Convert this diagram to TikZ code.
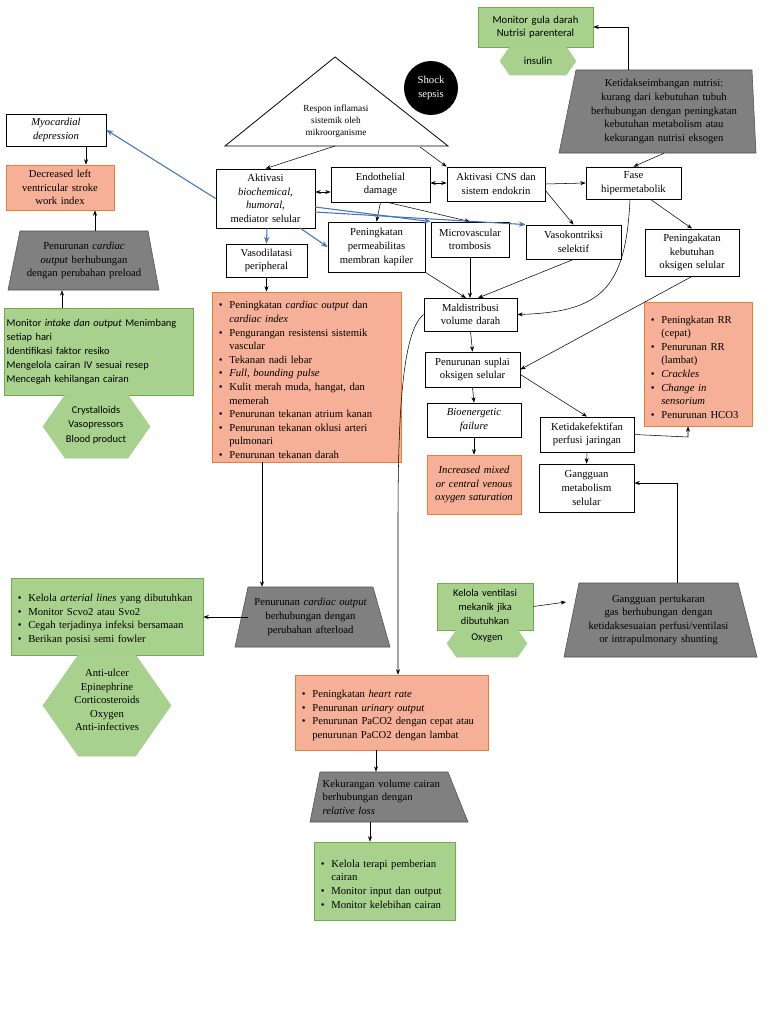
\documentclass[tikz,border=0pt]{standalone}
\usepackage{fontspec}
\setmainfont{Liberation Serif}
\newfontfamily\gsans{Carlito}
\usepackage{enumitem}
\usetikzlibrary{arrows.meta}
\definecolor{org}{HTML}{F6B097}
\definecolor{orgb}{HTML}{ED7D31}
\definecolor{grn}{HTML}{A9D18E}
\definecolor{grnb}{HTML}{70AD47}
\definecolor{gry}{HTML}{808080}
\definecolor{blu}{HTML}{4472C4}
\newcommand\bx[7]{%
 \pgfmathsetmacro\cx{(#2+#4)/2}\pgfmathsetmacro\cy{(#3+#5)/2}%
 \pgfmathsetmacro\ww{(#4-#2)*0.75}\pgfmathsetmacro\hh{(#5-#3)*0.75}%
 \pgfmathsetmacro\tw{(#4-#2)*0.75-4}%
 \node[#6,minimum width=\ww pt,minimum height=\hh pt,text width=\tw pt] (#1) at (\cx,\cy) {#7};}
\newcommand\hexa[4]{% x1 y1 x2 y2
 \pgfmathsetmacro\dx{(#4-#2)*0.35}\pgfmathsetmacro\my{(#2+#4)/2}%
 \fill[grn,draw=grnb!60] (#1+\dx,#2)--(#3-\dx,#2)--(#3,\my)--(#3-\dx,#4)--(#1+\dx,#4)--(#1,\my)--cycle;}
\newcommand\trap[6]{% ytop xtl xtr ybot xbl xbr
 \fill[gry,draw=gry!60!black] (#2,#1)--(#3,#1)--(#6,#4)--(#5,#4)--cycle;}
\setlist[itemize]{nosep,leftmargin=11pt,label=\textbullet,topsep=0pt}
\begin{document}
\lefthyphenmin=64 \hyphenpenalty=10000
\begin{tikzpicture}[x=0.75pt,y=-0.75pt,font=\fontsize{8}{10.2}\selectfont,
 box/.style={draw,fill=white,line width=0.6pt,align=center,inner sep=1pt},
 ob/.style={draw=orgb,fill=org,line width=0.6pt,align=left,inner sep=2pt},
 gb/.style={draw=grnb,fill=grn,line width=0.6pt,align=left,inner sep=2pt},
 tx/.style={align=center,inner sep=1pt},
 ar/.style={-{Stealth[length=4pt,width=3pt]},line width=0.4pt},
 ba/.style={ar,draw=blu,line width=0.8pt,-{Stealth[length=5pt,width=4pt]}},
 da/.style={{Stealth[length=4pt,width=3pt]}-{Stealth[length=4pt,width=3pt]},line width=0.6pt}]
\useasboundingbox (0,0) rectangle (768,1024);
\fill[white] (0,0) rectangle (768,1024);
% top
\bx{mon}{478}{7}{593}{47}{gb,align=center,font=\gsans\fontsize{8}{10.2}\selectfont}{Monitor gula darah\\Nutrisi parenteral}
\hexa{500}{47}{576}{75}\node[font=\gsans\fontsize{8}{9}\selectfont] (ins) at (538,61) {insulin};
\draw[line width=0.6pt,fill=white] (335,57)--(448,146)--(225,146)--cycle;
\node[tx,font=\fontsize{7}{9}\selectfont] (resp) at (336,121) {Respon inflamasi\\sistemik oleh\\mikroorganisme};
\fill[black] (431,88) circle (27);
\node[tx,text=white] (shock) at (431,88) {Shock\\sepsis};
\trap{70}{576}{752}{153}{559}{756}
\bx{keti}{576}{70}{752}{153}{tx}{Ketidakseimbangan nutrisi: kurang dari kebutuhan tubuh berhubungan dengan peningkatan kebutuhan metabolism atau kekurangan nutrisi eksogen}
% row
\bx{fase}{586}{167}{681}{199}{box}{Fase\\hipermetabolik}
\bx{cns}{447}{167}{545}{201}{box}{Aktivasi CNS dan sistem endokrin}
\bx{endo}{331}{167}{430}{202}{box}{Endothelial\\damage}
\bx{bio}{216}{169}{315}{228}{box}{Aktivasi \textit{biochemical, humoral,} mediator selular}
\bx{perm}{328}{222}{425}{272}{box}{Peningkatan permeabilitas membran kapiler}
\bx{micro}{431}{222}{509}{257}{box}{Microvascular trombosis}
\bx{vaso}{526}{225}{621}{259}{box}{Vasokontriksi\\selektif}
\bx{keb}{645}{229}{739}{276}{box}{Peningakatan kebutuhan oksigen selular}
\bx{vdil}{226}{244}{307}{277}{box}{Vasodilatasi peripheral}
\bx{mald}{424}{298}{517}{331}{box}{Maldistribusi volume darah}
\bx{supl}{425}{352}{520}{387}{box}{Penurunan suplai oksigen selular}
\bx{bioe}{427}{403}{521}{437}{box,font=\itshape\fontsize{8}{10.2}\selectfont}{Bioenergetic\\failure}
\bx{incr}{427}{455}{521}{514}{ob,align=center,font=\itshape\fontsize{8}{10.2}\selectfont}{Increased mixed or central venous oxygen saturation}
\bx{perf}{540}{417}{634}{452}{box}{Ketidakefektifan perfusi jaringan}
\bx{gmet}{539}{464}{634}{512}{box}{Gangguan\\metabolism\\selular}
\bx{rr}{644}{302}{752}{426}{ob}{\begin{itemize}\item Peningkatan RR (cepat)\item Penurunan RR (lambat)\item \textit{Crackles}\item \textit{Change in sensorium}\item Penurunan HCO3\end{itemize}}
% left
\bx{myo}{6}{114}{106}{146}{box,font=\itshape\fontsize{8}{10.2}\selectfont}{Myocardial\\depression}
\bx{dec}{6}{165}{114}{210}{ob,align=center}{Decreased left ventricular stroke work index}
\trap{231}{20}{148}{290}{8}{159}
\bx{pre}{20}{231}{148}{290}{tx}{Penurunan \textit{cardiac output} berhubungan dengan perubahan preload}
\bx{gmon}{4}{308}{193}{395}{gb,font=\gsans\fontsize{7.8}{10.5}\selectfont,anchor=center}{Monitor \textit{intake dan output} Menimbang setiap hari\\Identifikasi faktor resiko\\Mengelola cairan IV sesuai resep\\Mencegah kehilangan cairan\\[12pt]}
\hexa{43}{395}{150}{458}\node[tx,font=\gsans\fontsize{7.8}{11}\selectfont] (cry) at (96,425) {Crystalloids\\Vasopressors\\Blood product};
\bx{ol}{212}{292}{401}{462}{ob}{\begin{itemize}\item Peningkatan \textit{cardiac output} dan \textit{cardiac index}\item Pengurangan resistensi sistemik vascular\item Tekanan nadi lebar\item \textit{Full, bounding pulse}\item Kulit merah muda, hangat, dan memerah\item Penurunan tekanan atrium kanan\item Penurunan tekanan oklusi arteri pulmonari\item Penurunan tekanan darah\end{itemize}}
% bottom
\bx{kart}{11}{578}{203}{655}{gb}{\begin{itemize}\item Kelola \textit{arterial lines} yang dibutuhkan\item Monitor Scvo2 atau Svo2\item Cegah terjadinya infeksi bersamaan\item Berikan posisi semi fowler\end{itemize}}
\hexa{43}{655}{171}{756}\node[tx] (anti) at (107,700) {Anti-ulcer\\Epinephrine\\Corticosteroids\\Oxygen\\Anti-infectives};
\trap{587}{248}{373}{647}{235}{390}
\bx{aft}{248}{587}{373}{647}{tx}{Penurunan \textit{cardiac output} berhubungan dengan perubahan afterload}
\bx{vent}{437}{583}{533}{630}{gb,align=center,inner sep=1pt,font=\gsans\fontsize{7.8}{10.5}\selectfont}{Kelola ventilasi mekanik jika dibutuhkan}
\hexa{447}{630}{527}{657}\node[font=\gsans\fontsize{7.8}{9}\selectfont] (oxy) at (487,638) {Oxygen};
\trap{583}{579}{738}{657}{564}{757}
\bx{gpt}{570}{583}{747}{657}{tx}{Gangguan pertukaran gas berhubungan dengan ketidaksesuaian perfusi/ventilasi or intrapulmonary shunting}
\bx{hr}{295}{675}{488}{750}{ob}{\begin{itemize}\item Peningkatan \textit{heart rate}\item Penurunan \textit{urinary output}\item Penurunan PaCO2 dengan cepat atau penurunan PaCO2 dengan lambat\end{itemize}}
\trap{772}{320}{448}{822}{310}{468}
\bx{kek}{320}{772}{450}{822}{tx,align=left}{Kekurangan volume cairan berhubungan dengan \textit{relative loss}}
\bx{kel}{314}{842}{455}{920}{gb}{\begin{itemize}\item Kelola terapi pemberian cairan\item Monitor input dan output\item Monitor kelebihan cairan\end{itemize}}
% connectors
\coordinate (kt) at (628,70);
\draw[line width=0.6pt] (kt) -- (628,27);
\draw[ar] (628,27) -- (mon.east |- 0,27);
\draw[ar] (keti.south) -- (fase.north);
\draw[ar] (335,146) -- (bio.north);
\draw[ar] (420,147) -- (cns.north west);
\draw[da] (bio.east |- 0,192) -- (endo.west |- 0,192);
\draw[da] (endo.east |- 0,183) -- (cns.west |- 0,183);
\draw[ar] (cns.east) -- (fase.west);
\draw[ar] (545,190) -- (vaso.north);
\draw[ar] (650,199) -- (keb.north);
\draw[ar] (630,199) .. controls (626,290) and (600,312) .. (mald.east);
\draw[ar] (keb.south) -- (supl.east);
\draw[ar] (endo.south) -- (perm.north);
\draw[ar] (386,202) -- (micro.north);
\draw[ba] (bio.west) -- (myo.east);
\draw[ba] (267,228) -- (vdil.north);
\draw[ba] (300,228) -- (perm.west);
\draw[ba] (315,207) -- (micro.north west);
\draw[ba] (315,212) -- (vaso.north west);
\draw[ar] (perm.south east) -- (466,298);
\draw[ar] (micro.south) -- (470,298);
\draw[ar] (vaso.south) -- (478,298);
\draw[ar] (mald.south) -- (supl.north);
\draw[ar] (supl.south) -- (bioe.north);
\draw[ar] (supl.east) ++(0,5) -- (perf.north);
\draw[ar] (bioe.south) -- (incr.north);
\draw[ar] (perf.east) -- (688,437) -- (rr.south -| 688,0);
\draw[ar] (perf.south) -- (gmet.north);
\draw[ar] (gpt.north -| 677,0) -- (677,483) -- (gmet.east |- 0,483);
\draw[ar] (vent.east) -- (566,602);
\draw[ar] (mald.west) .. controls (404,330) and (398,400) .. (398,520) -- (hr.north -| 398,0);
\draw[ar] (vdil.south) -- (ol.north -| vdil.south);
\draw[ar] (262,462) -- (aft.north -| 262,0);
\draw[ar] (aft.west) -- (kart.east |- aft.west);
\draw[ar] (myo.south -| 86,0) -- (dec.north -| 86,0);
\draw[ar] (pre.north -| 95,0) -- (dec.south -| 95,0);
\draw[ar] (gmon.north -| 62,0) -- (pre.south -| 62,0);
\draw[ar] (hr.south -| 376,0) -- (kek.north -| 376,0);
\draw[ar] (kek.south -| 370,0) -- (kel.north -| 370,0);
\end{tikzpicture}
\end{document}
